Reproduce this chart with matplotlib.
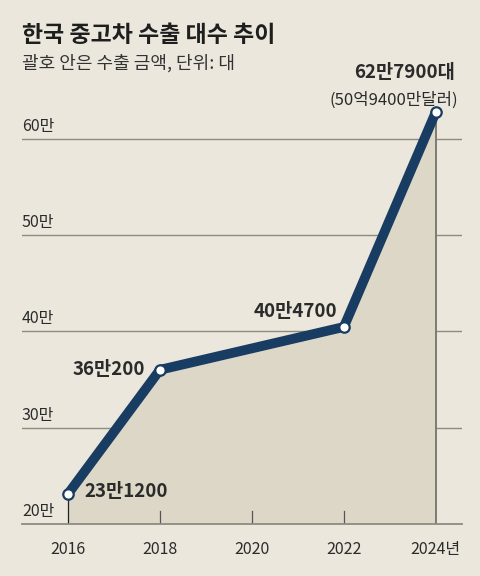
import matplotlib
matplotlib.use("Agg")
import matplotlib.pyplot as plt

# data
years = [2016, 2018, 2022, 2024]
units = [231200, 360200, 404700, 627900]
point_labels = ["23만1200", "36만200", "40만4700", "62만7900대"]
xtick_years = [2016, 2018, 2020, 2022, 2024]
xtick_labels = ["2016", "2018", "2020", "2022", "2024년"]
ytick_vals = [200000, 300000, 400000, 500000, 600000]
ytick_labels = ["20만", "30만", "40만", "50만", "60만"]

title = "한국 중고차 수출 대수 추이"
subtitle = "괄호 안은 수출 금액, 단위: 대"
top_note = "(50억9400만달러)"

plt.rcParams["font.family"] = ["Noto Sans CJK KR", "DejaVu Sans"]

bg = "#ebe7dc"
fill_col = "#dcd7c6"
line_col = "#183c62"
grid_col = "#8e8b81"
text_col = "#2b2b2b"

W, H = 480, 576
fig = plt.figure(figsize=(W / 100, H / 100), dpi=100, facecolor=bg)
ax = fig.add_axes([22 / W, 1 - 524 / H, (462 - 22) / W, (524 - 100) / H])
ax.set_facecolor(bg)

ax.set_xlim(2015.0, 2024.57)
ax.set_ylim(200000, 640500)

# grid lines + y labels
for v, lab in zip(ytick_vals, ytick_labels):
    if v > 200000:
        ax.axhline(v, color=grid_col, lw=1.0, zorder=1)
    ax.annotate(lab, (2015.0, v), xytext=(0, 3), textcoords="offset points",
                ha="left", va="bottom", fontsize=11.5, color=text_col)

ax.fill_between(years, units, 200000, color=fill_col, zorder=2, lw=0)

# vertical guide lines and short ticks
ax.plot([2024, 2024], [200000, units[-1]], color="#77746a", lw=1.3, zorder=2.5)
ax.plot([2016, 2016], [200000, units[0]], color="#222222", lw=0.9, zorder=2.5)
for yr in xtick_years[1:-1]:
    ax.plot([yr, yr], [200000, 213500], color="#555555", lw=0.9, zorder=2.5)

ax.plot(years, units, color=line_col, lw=7, solid_capstyle="round",
        solid_joinstyle="round", zorder=3, clip_on=False)
ax.plot(years, units, "o", ms=7.5, mfc="white", mec=line_col, mew=1.6,
        zorder=4, clip_on=False)

for s in ["top", "right", "left"]:
    ax.spines[s].set_visible(False)
ax.spines["bottom"].set_color(grid_col)
ax.spines["bottom"].set_linewidth(1.3)
ax.spines["bottom"].set_zorder(2.6)

ax.set_yticks([])
ax.set_xticks(xtick_years)
ax.set_xticklabels(xtick_labels, fontsize=11.5, color=text_col)
ax.tick_params(axis="x", length=0, pad=12)

# data labels
lbl_kw = dict(textcoords="offset pixels", fontsize=13.5, fontweight="bold",
              color=text_col, va="center")
ax.annotate(point_labels[0], (years[0], units[0]), xytext=(16, 2), ha="left", **lbl_kw)
ax.annotate(point_labels[1], (years[1], units[1]), xytext=(-15, 0), ha="right", **lbl_kw)
ax.annotate(point_labels[2], (years[2], units[2]), xytext=(-7, 15), ha="right", **lbl_kw)
ax.annotate(point_labels[3], (years[3], units[3]), xytext=(19, 40), ha="right",
            annotation_clip=False, **lbl_kw)
ax.annotate(top_note, (years[3], units[3]), xytext=(22, 12), ha="right",
            textcoords="offset pixels", fontsize=12, color=text_col, va="center",
            annotation_clip=False)

fig.text(22 / W, 1 - 35 / H, title, fontsize=16.5, fontweight="bold",
         color="#1e1e1e", va="center", ha="left")
fig.text(22 / W, 1 - 63 / H, subtitle, fontsize=13, color="#333333",
         va="center", ha="left")

fig.savefig("out.png", dpi=100, facecolor=bg)
